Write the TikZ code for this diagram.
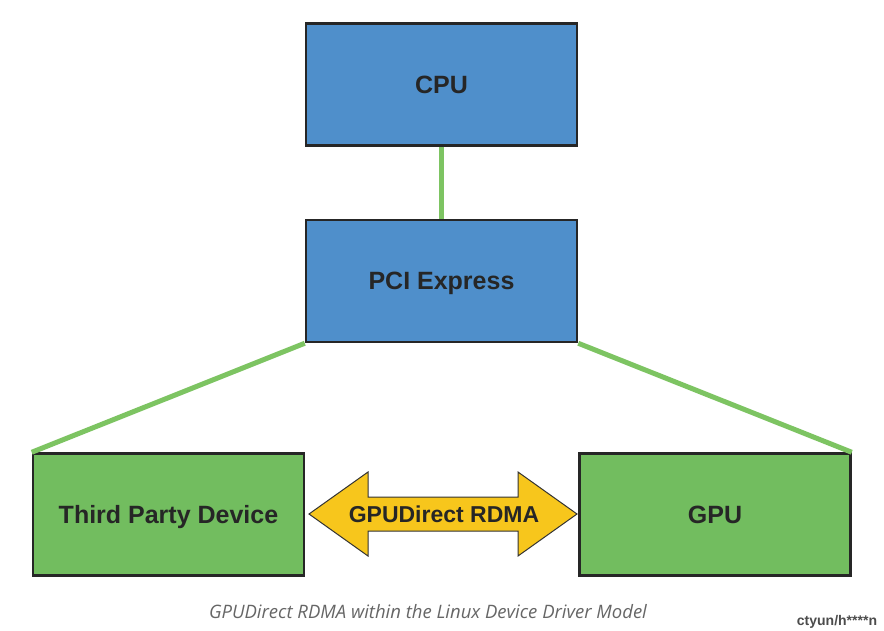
\documentclass[tikz,border=0pt]{standalone}
\usepackage{fontspec}
\setmainfont{Liberation Sans}
\newfontfamily\capfont{Open Sans}
\begin{document}
\begin{tikzpicture}[x=1pt,y=-1pt,
  box/.style={draw=black!85,line width=2.5pt,minimum width=271pt,minimum height=122pt,font=\bfseries\fontsize{25}{28}\selectfont,text=black!85},
  bl/.style={box,fill=blue1},
  gr/.style={box,fill=green1},
  link/.style={draw=green2,line width=5pt}]
\definecolor{blue1}{HTML}{4F8FCB}
\definecolor{green1}{HTML}{72BD5F}
\definecolor{green2}{HTML}{7DC462}
\definecolor{yel}{HTML}{F7C61C}
\useasboundingbox[fill=white] (0,0) rectangle (884,630);
\node[bl,text depth=-3pt] (cpu) at (441.5,84.5) {CPU};
\node[bl,text depth=-3pt] (pci) at (441.5,281) {PCI Express};
\node[gr,text depth=-3pt] (tpd) at (168.5,514.5) {Third Party Device};
\node[gr,text depth=-3pt] (gpu) at (715,514.5) {GPU};
\draw[link] (cpu.south) -- (pci.north);
\draw[link] (pci.south west) -- (tpd.north west);
\draw[link] (pci.south east) -- (gpu.north east);
\draw[fill=yel,draw=black!80,line width=1pt] (309,514) -- (368,472) -- (368,497) -- (518,497) -- (518,472) -- (577,514) -- (518,556) -- (518,531) -- (368,531) -- (368,556) -- cycle;
\node[font=\bfseries\fontsize{23}{26}\selectfont,text=black!85] (lbl) at (444,514) {GPUDirect RDMA};
\node[font=\capfont\itshape\fontsize{18.5}{21}\selectfont,text=black!60] (cap) at (428,612) {GPUDirect RDMA within the Linux Device Driver Model};
\node[font=\bfseries\fontsize{14}{16}\selectfont,text=black!70] (wm) at (837,622) {ctyun/h****n};
\end{tikzpicture}
\end{document}
